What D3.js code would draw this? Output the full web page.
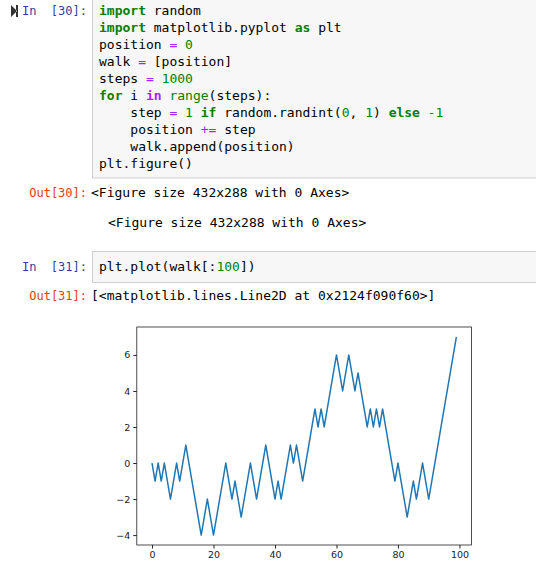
<!DOCTYPE html>
<html><head><meta charset="utf-8">
<script src="https://cdn.jsdelivr.net/npm/d3@7"></script>
<style>body{margin:0;background:#fff}svg{display:block}</style>
</head><body>
<svg id="nb" width="536" height="580"></svg>
<script>
// walk[:100]
const walk = [0,-1,0,-1,0,-1,-2,-1,0,-1,0,1,0,-1,-2,-3,-4,-3,-2,-3,
  -4,-3,-2,-1,0,-1,-2,-1,-2,-3,-2,-1,0,-1,-2,-1,0,1,0,-1,
  -2,-1,-2,-1,0,1,0,1,0,-1,0,1,2,3,2,3,2,3,4,5,
  6,5,4,5,6,5,4,5,4,3,2,3,2,3,2,3,2,1,0,-1,
  0,-1,-2,-3,-2,-1,-2,-1,0,-1,-2,-1,0,1,2,3,4,5,6,7];
const xTicks = [0,20,40,60,80,100];
const yTicks = [-4,-2,0,2,4,6];

const K = "#008000", O = "#AA22FF", T = "#000";
// code lines as [text, colour, bold] pieces
const code30 = [
  [["import",K,1],[" random",T]],
  [["import",K,1],[" matplotlib.pyplot ",T],["as",K,1],[" plt",T]],
  [["position ",T],["=",O],[" ",T],["0",K]],
  [["walk ",T],["=",O],[" [position]",T]],
  [["steps ",T],["=",O],[" ",T],["1000",K]],
  [["for",K,1],[" i ",T],["in",O,1],[" ",T],["range",K],["(steps):",T]],
  [["    step ",T],["=",O],[" ",T],["1",K],[" ",T],["if",K,1],[" random.randint(",T],["0",K],[", ",T],["1",K],[") ",T],["else",K,1],[" ",T],["-",O],["1",K]],
  [["    position ",T],["+=",O],[" step",T]],
  [["    walk.append(position)",T]],
  [["plt.figure()",T]]
];
const code31 = [[["plt.plot(walk[:",T],["100",K],["])",T]]];

const svg = d3.select("#nb");
const mono = "'DejaVu Sans Mono','Liberation Mono',monospace";

function codeLines(lines, y0) {
  lines.forEach((parts, i) => {
    const t = svg.append("text").attr("x", 99).attr("y", y0 + i * 17)
      .attr("font-family", mono).attr("font-size", 13).attr("xml:space", "preserve");
    parts.forEach(p => t.append("tspan").attr("fill", p[1])
      .attr("font-weight", p[2] ? "bold" : "normal").text(p[0]));
  });
}
function prompt(txt, y, col) {
  svg.append("text").attr("x", 87).attr("y", y).attr("text-anchor", "end")
    .attr("font-family", mono).attr("font-size", 12).attr("fill", col)
    .attr("xml:space", "preserve").text(txt);
}

// cell 30
svg.append("rect").attr("x", 92.5).attr("y", -1).attr("width", 460).attr("height", 179)
  .attr("fill", "#f7f7f7").attr("stroke", "#cfcfcf");
svg.append("path").attr("d", "M11,5V17L17,11Z M16,5H18V17H16Z").attr("fill", "#333");
prompt("In  [30]:", 15, "#303F9F");
codeLines(code30, 15);
prompt("Out[30]:", 197, "#D84315");
svg.append("text").attr("x", 91).attr("y", 197).attr("font-family", mono).attr("font-size", 13)
  .text("<Figure size 432x288 with 0 Axes>");
svg.append("text").attr("x", 108).attr("y", 227).attr("font-family", mono).attr("font-size", 13)
  .text("<Figure size 432x288 with 0 Axes>");

// cell 31
svg.append("rect").attr("x", 92.5).attr("y", 251.5).attr("width", 460).attr("height", 31)
  .attr("fill", "#f7f7f7").attr("stroke", "#cfcfcf");
prompt("In  [31]:", 271, "#303F9F");
codeLines(code31, 271);
prompt("Out[31]:", 300, "#D84315");
svg.append("text").attr("x", 91).attr("y", 300).attr("font-family", mono).attr("font-size", 13)
  .text("[<matplotlib.lines.Line2D at 0x2124f090f60>]");

// plot
const L = 136.8, R = 471.6, Tp = 327, B = 545;
const x = d3.scaleLinear().domain([-4.95, 103.95]).range([L, R]);
const y = d3.scaleLinear().domain([-4.55, 7.55]).range([B, Tp]);
const g = svg.append("g").attr("font-family", "'DejaVu Sans',sans-serif");
g.append("path").datum(walk)
  .attr("d", d3.line().x((d, i) => x(i)).y(d => y(d)))
  .attr("fill", "none").attr("stroke", "#1f77b4").attr("stroke-width", 1.5)
  .attr("stroke-linejoin", "round");
g.append("rect").attr("x", L).attr("y", Tp).attr("width", R - L).attr("height", B - Tp)
  .attr("fill", "none").attr("stroke", "#222").attr("stroke-width", 0.8);
const xa = g.append("g").attr("transform", `translate(0,${B})`)
  .call(d3.axisBottom(x).tickValues(xTicks).tickSize(3.5).tickPadding(3).tickFormat(d3.format("d")));
const ya = g.append("g").attr("transform", `translate(${L},0)`)
  .call(d3.axisLeft(y).tickValues(yTicks).tickSize(3.5).tickPadding(3).tickFormat(d => d < 0 ? "\u2212" + (-d) : d));
[xa, ya].forEach(a => {
  a.select(".domain").remove();
  a.attr("font-family", "'DejaVu Sans',sans-serif").attr("font-size", 9.5);
  a.selectAll("line").attr("stroke", "#222");
  a.selectAll("text").attr("fill", "#222");
});
</script>
</body></html>
